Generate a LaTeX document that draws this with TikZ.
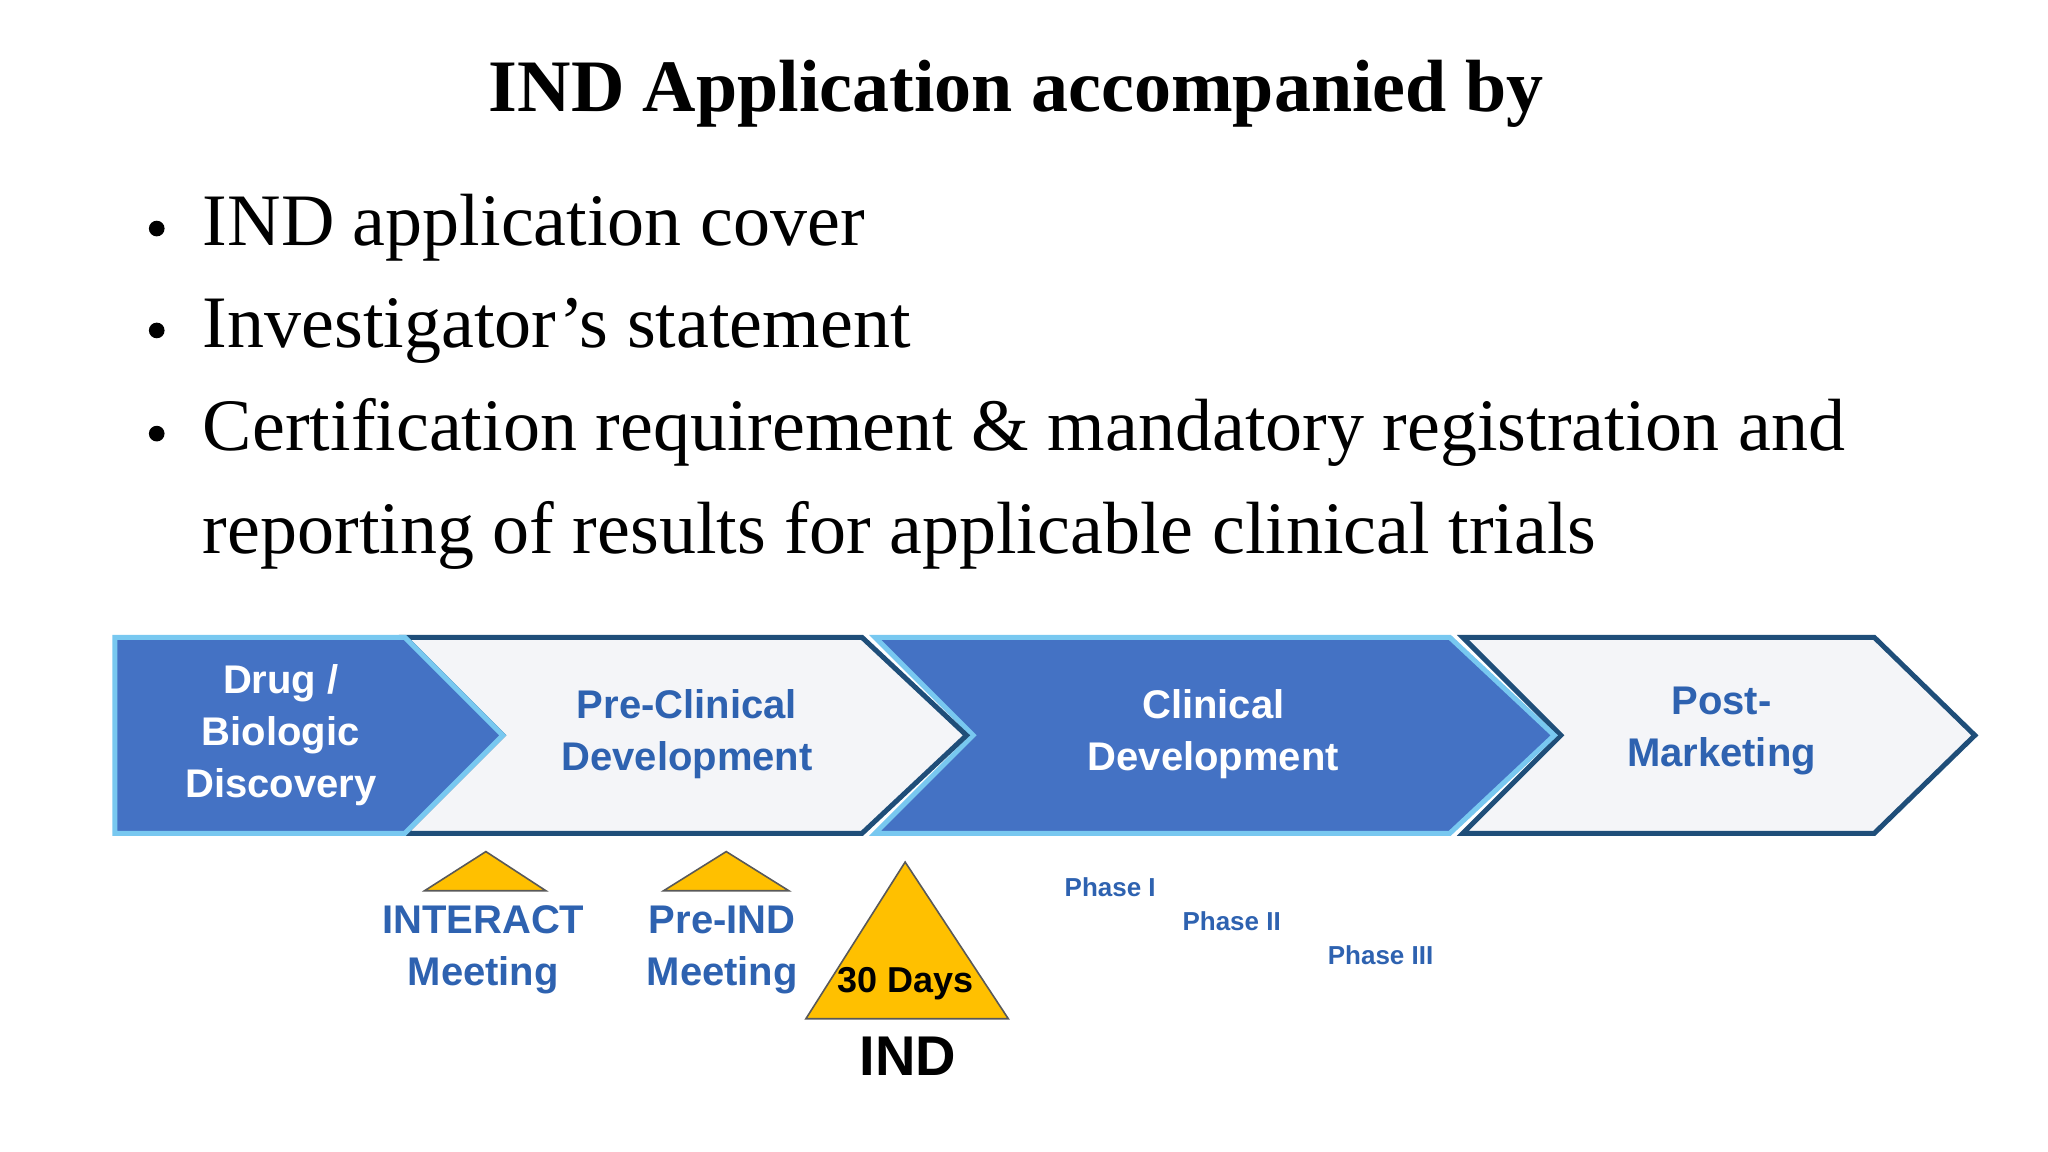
\documentclass[tikz,border=0pt]{standalone}
\usepackage{fontspec}
\setmainfont{Liberation Serif}
\newfontfamily\hsans{Liberation Sans}
\begin{document}
\begin{tikzpicture}[x=0.653pt,y=-0.653pt,
  bluebox/.style={fill=blue!55!cyan!60!black!85, fill={rgb,255:red,68;green,114;blue,196}, draw={rgb,255:red,120;green,200;blue,240}, line width=2.5pt},
  whitebox/.style={fill={rgb,255:red,244;green,245;blue,248}, draw={rgb,255:red,31;green,78;blue,121}, line width=2.5pt},
  wtxt/.style={font=\hsans\bfseries\fontsize{20}{26}\selectfont, text=white, align=center},
  btxt/.style={font=\hsans\bfseries\fontsize{20}{26}\selectfont, text={rgb,255:red,46;green,98;blue,176}, align=center},
  gold/.style={fill={rgb,255:red,255;green,192;blue,0}, draw=gray!70!black, line width=0.8pt},
  phase/.style={font=\hsans\bfseries\fontsize{13}{15}\selectfont, text={rgb,255:red,46;green,98;blue,176}},
  bul/.style={font=\fontsize{37}{44}\selectfont, anchor=base west}]
\useasboundingbox (0,0) rectangle (1568,882);
\node (title) at (778,72) {\fontsize{37}{44}\selectfont\bfseries IND Application accompanied by};
\foreach \yy/\n/\t in {188/b1/IND application cover, 266/b2/Investigator’s statement, 345/b3/Certification requirement \& mandatory registration and}{
  \fill (120,\yy-13) circle (6);
  \node[bul] (\n) at (150,\yy) {\t};
}
\node[bul] (b4) at (150,424) {reporting of results for applicable clinical trials};
% band
\draw[whitebox] (1120,488) -- (1435,488) -- (1512,563) -- (1435,638) -- (1120,638) -- (1195,563) -- cycle;
\draw[bluebox] (670,488) -- (1110,488) -- (1190,563) -- (1110,638) -- (670,638) -- (745,563) -- cycle;
\draw[whitebox] (310,488) -- (660,488) -- (740,563) -- (660,638) -- (310,638) -- (385,563) -- cycle;
\draw[bluebox] (88,488) -- (310,488) -- (385,563) -- (310,638) -- (88,638) -- cycle;
\node[wtxt] (drug) at (215,563) {Drug /\\Biologic\\Discovery};
\node[btxt] (pre) at (526,562) {Pre-Clinical\\Development};
\node[wtxt] (clin) at (929,562) {Clinical\\Development};
\node[btxt] (post) at (1318,560) {Post-\\Marketing};
% triangles
\draw[gold] (325,682) -- (372,652) -- (418,682) -- cycle;
\draw[gold] (508,682) -- (556,652) -- (604,682) -- cycle;
\draw[gold] (617,780) -- (693,660) -- (772,780) -- cycle;
\node[btxt] (interact) at (370,727) {INTERACT\\Meeting};
\node[btxt] (preind) at (553,727) {Pre-IND\\Meeting};
\node[font=\hsans\bfseries\fontsize{18}{20}\selectfont] (days) at (693,753) {30 Days};
\node[font=\hsans\bfseries\fontsize{28}{30}\selectfont] (ind) at (695,809) {IND};
\node[phase] (p1) at (850,679) {Phase I};
\node[phase] (p2) at (943,705) {Phase II};
\node[phase] (p3) at (1057,731) {Phase III};
\end{tikzpicture}
\end{document}
